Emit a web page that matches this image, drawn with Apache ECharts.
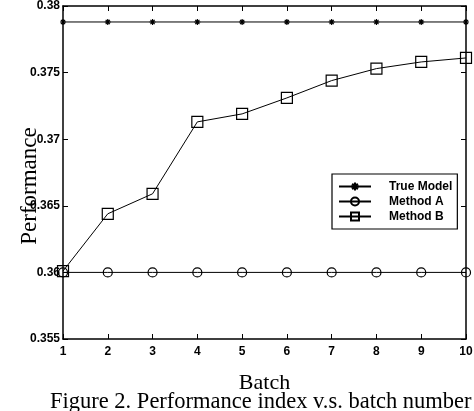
<!DOCTYPE html>
<html><head><meta charset="utf-8">
<script src="https://cdn.jsdelivr.net/npm/echarts@6/dist/echarts.min.js"></script>
<style>html,body{margin:0;padding:0;background:#fff}#c{width:474px;height:411px}</style>
</head><body><div id="c"></div>
<script>
const batches = [1,2,3,4,5,6,7,8,9,10];
const trueModel = [0.3788,0.3788,0.3788,0.3788,0.3788,0.3788,0.3788,0.3788,0.3788,0.3788];
const methodA = [0.3600,0.3600,0.3600,0.3600,0.3600,0.3600,0.3600,0.3600,0.3600,0.3600];
const methodB = [0.3601,0.3644,0.3659,0.3713,0.3719,0.3731,0.3744,0.3753,0.3758,0.3761];
const seriesNames = ['True Model','Method A','Method B'];
const yTitle = 'Performance';
const xTitle = 'Batch';
const caption = 'Figure 2. Performance index v.s. batch number';

const star = 'path://M0,5L10,5M5,0L5,10M1.5,1.5L8.5,8.5M8.5,1.5L1.5,8.5';
const pair = arr => batches.map((b,i)=>[b,arr[i]]);
const tickFont = {color:'#000',fontFamily:'Liberation Sans, Arial',fontWeight:'bold',fontSize:12};
const chart = echarts.init(document.getElementById('c'));
const mk = (name, data, symbol, size) => ({
  name, type:'line', data: pair(data), symbol, symbolSize:size,
  lineStyle:{color:'#000',width:1}, itemStyle:{color:'none',borderColor:'#000',borderWidth:1.2},
  emphasis:{disabled:true}, animation:false, z:3
});
chart.setOption({
  animation:false,
  grid:{left:63,right:8,top:6,bottom:72,containLabel:false,outerBoundsMode:'none'},
  legend:{
    orient:'vertical', left:332, top:174, width:124,
    padding:[6,5,6,6], itemGap:2, itemWidth:32, itemHeight:10,
    borderColor:'#000', borderWidth:1.2, backgroundColor:'#fff',
    textStyle:{color:'#000',fontFamily:'Liberation Sans, Arial',fontWeight:'bold',fontSize:12,padding:[0,0,0,13]},
    data:seriesNames
  },
  xAxis:[{
    type:'value', min:1, max:10, interval:1,
    name:xTitle, nameLocation:'middle', nameGap:33,
    nameTextStyle:{color:'#000',fontFamily:'Liberation Serif, Times New Roman',fontSize:22},
    axisLine:{lineStyle:{color:'#000',width:1.5}},
    axisTick:{inside:true,length:5,lineStyle:{color:'#000'}},
    axisLabel:Object.assign({margin:7},tickFont),
    splitLine:{show:false}
  },{
    type:'value', position:'top', min:1, max:10, interval:1,
    axisLine:{lineStyle:{color:'#000',width:1.5}},
    axisTick:{inside:true,length:5,lineStyle:{color:'#000'}},
    axisLabel:{show:false}, splitLine:{show:false}
  }],
  yAxis:[{
    type:'value', min:0.355, max:0.38, interval:0.005,
    axisLine:{show:true,lineStyle:{color:'#000',width:1.5}},
    axisTick:{show:true,inside:true,length:5,lineStyle:{color:'#000'}},
    axisLabel:Object.assign({margin:3,formatter:v=>String(+v.toFixed(3))},tickFont),
    splitLine:{show:false}
  },{
    type:'value', position:'right', min:0.355, max:0.38, interval:0.005,
    axisLine:{show:true,lineStyle:{color:'#000',width:1.5}},
    axisTick:{show:true,inside:true,length:5,lineStyle:{color:'#000'}},
    axisLabel:{show:false}, splitLine:{show:false}
  }],
  series:[
    mk(seriesNames[0], trueModel, star, 6),
    mk(seriesNames[1], methodA, 'circle', 9),
    mk(seriesNames[2], methodB, 'rect', 11)
  ],
  graphic:[{
    type:'text', x:18, y:186, rotation:Math.PI/2,
    style:{text:yTitle,fill:'#000',align:'center',verticalAlign:'alphabetic',
      font:'23px "Liberation Serif", "Times New Roman", serif'}
  },{
    type:'text', left:50, top:391,
    style:{text:caption,fill:'#000',
      font:'22.5px "Liberation Serif", "Times New Roman", serif'}
  }]
});
</script></body></html>
